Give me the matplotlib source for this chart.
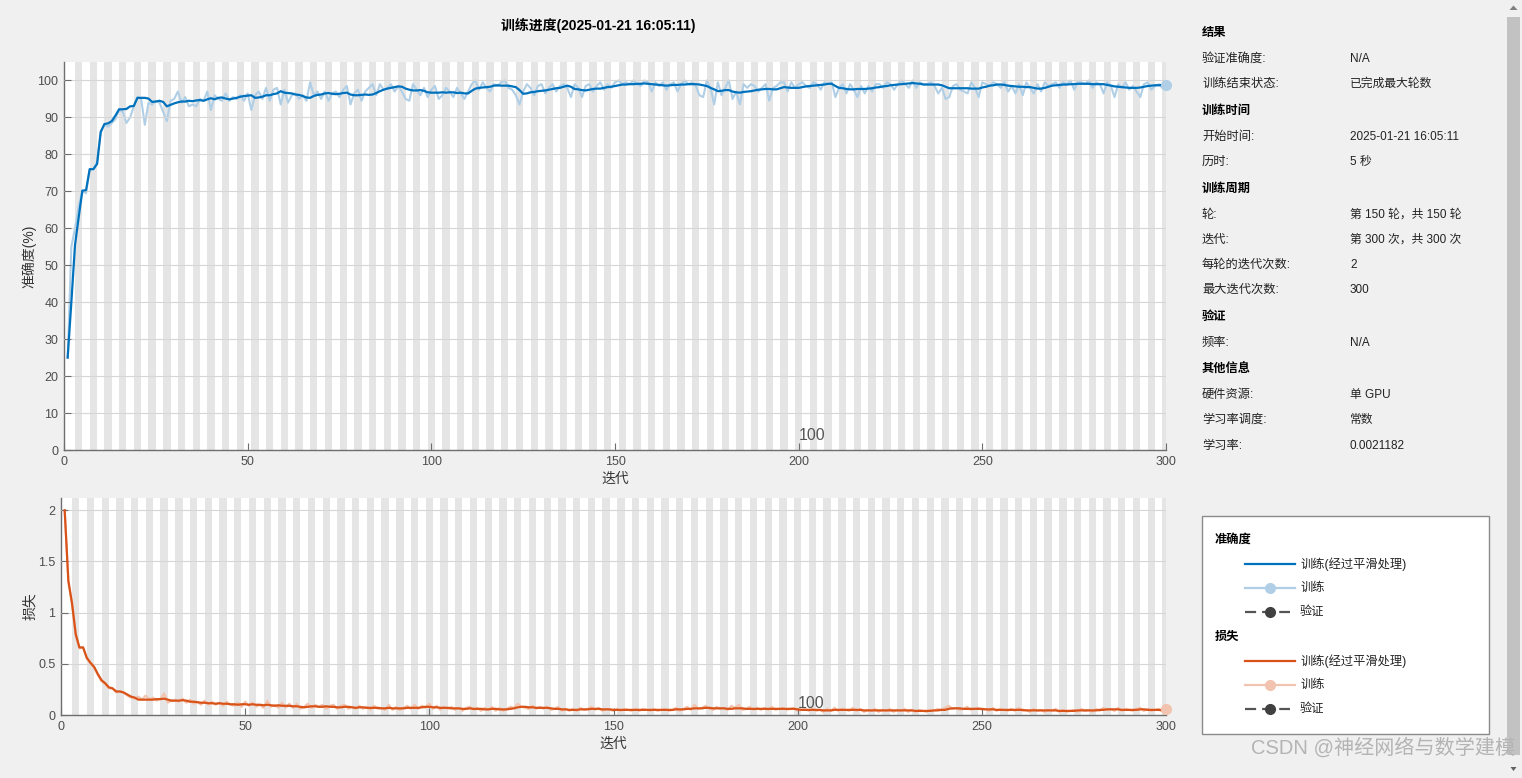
import numpy as np
import matplotlib
matplotlib.use('Agg')
import matplotlib.pyplot as plt
from matplotlib.patches import Rectangle, Polygon

plt.rcParams['font.family'] = ['Liberation Sans', 'Noto Sans CJK SC', 'DejaVu Sans']

# ---------------- data ----------------
iterations = np.arange(1, 301)

acc_smooth = [
    25.0, 40.0, 55.5, 63.0, 70.2, 70.3, 76.0, 76.0, 77.4, 86.1,
    88.2, 88.4, 89.0, 90.5, 92.2, 92.2, 92.3, 93.0, 93.1, 95.3,
    95.3, 95.3, 95.1, 94.2, 94.3, 94.5, 94.2, 93.0, 93.4, 93.8,
    94.1, 94.3, 94.3, 94.5, 94.4, 94.6, 94.7, 94.5, 94.9, 95.2,
    94.9, 95.3, 95.4, 95.1, 94.9, 95.1, 95.3, 95.6, 95.8, 95.9,
    96.0, 95.3, 95.4, 95.6, 96.0, 96.0, 96.3, 96.5, 97.1, 96.7,
    96.6, 96.5, 96.2, 96.1, 95.8, 95.4, 95.3, 95.8, 96.1, 96.2,
    96.5, 96.6, 96.4, 96.3, 96.4, 96.6, 96.7, 96.2, 96.0, 96.0,
    96.1, 96.2, 96.1, 96.2, 96.6, 97.1, 97.5, 97.8, 98.0, 98.2,
    98.4, 98.3, 97.8, 97.5, 97.3, 97.3, 97.4, 97.2, 96.8, 96.7,
    96.7, 96.7, 96.8, 96.7, 96.8, 96.8, 96.6, 96.7, 96.5, 96.5,
    97.2, 97.8, 98.0, 98.1, 98.2, 98.3, 98.6, 98.7, 98.6, 98.6,
    98.6, 98.4, 98.2, 97.4, 96.4, 96.5, 96.8, 96.9, 97.1, 97.2,
    97.3, 97.5, 97.7, 97.9, 98.0, 98.3, 98.6, 98.3, 97.7, 97.6,
    97.4, 97.3, 97.5, 97.7, 97.8, 97.8, 98.0, 98.2, 98.3, 98.5,
    98.7, 98.9, 98.9, 99.0, 99.0, 99.1, 99.1, 99.2, 99.1, 99.0,
    98.9, 98.8, 98.7, 98.6, 98.7, 98.8, 98.8, 98.9, 98.9, 99.0,
    99.0, 99.0, 98.9, 98.7, 98.5, 98.0, 97.6, 97.1, 97.2, 97.4,
    97.4, 97.0, 96.8, 96.7, 96.9, 97.0, 97.1, 97.3, 97.5, 97.6,
    97.7, 97.7, 97.6, 97.6, 97.9, 98.2, 98.1, 98.0, 98.0, 98.0,
    98.2, 98.4, 98.5, 98.6, 98.7, 98.8, 98.9, 99.1, 99.1, 98.5,
    98.0, 97.9, 97.7, 97.6, 97.6, 97.7, 97.7, 97.7, 97.8, 97.9,
    98.1, 98.2, 98.4, 98.5, 98.7, 98.8, 98.9, 99.0, 99.1, 99.2,
    99.3, 99.2, 99.1, 98.9, 98.9, 98.9, 98.9, 98.9, 98.7, 98.3,
    97.9, 97.9, 97.9, 97.9, 97.9, 97.9, 97.8, 97.8, 97.8, 98.1,
    98.3, 98.6, 98.7, 98.9, 98.9, 98.8, 98.6, 98.5, 98.4, 98.3,
    98.3, 98.2, 98.2, 98.0, 97.8, 97.8, 98.0, 98.3, 98.6, 98.7,
    98.8, 98.9, 98.9, 99.0, 99.0, 99.1, 99.1, 99.1, 99.1, 99.0,
    99.0, 99.0, 99.0, 98.8, 98.6, 98.4, 98.3, 98.2, 98.1, 98.0,
    98.0, 98.0, 98.1, 98.3, 98.5, 98.6, 98.7, 98.7, 98.8, 98.8,
]

acc_raw = [
    25.0, 55.0, 60.0, 66.0, 70.0, 69.5, 76.0, 76.0, 78.0, 86.0,
    88.0, 87.5, 88.5, 89.5, 92.0, 91.5, 88.5, 90.0, 93.0, 95.5,
    95.0, 88.0, 94.0, 93.5, 94.5, 94.0, 91.5, 89.0, 94.5, 95.0,
    97.0, 94.0, 95.5, 93.0, 93.5, 93.0, 95.0, 94.5, 97.0, 92.0,
    96.0, 95.0, 94.5, 96.5, 94.5, 95.5, 95.0, 96.0, 94.5, 96.5,
    92.0, 96.0, 97.0, 95.0, 98.0, 94.5, 97.5, 98.0, 93.5, 97.5,
    94.0, 96.0, 96.5, 95.0, 96.0, 94.5, 99.5, 96.0, 97.0, 95.0,
    97.0, 94.5, 96.5, 97.0, 95.5, 97.5, 98.5, 93.5, 96.5, 97.5,
    94.5, 97.0, 98.0, 99.0, 96.0, 99.0, 97.5, 98.0, 99.0, 97.0,
    98.5, 97.0, 95.0, 94.5, 99.0, 97.5, 96.0, 98.0, 95.5, 97.5,
    98.5, 95.0, 96.0, 98.0, 97.0, 95.5, 98.0, 96.5, 95.0, 97.0,
    99.0, 100.0, 97.5, 99.5, 98.0, 97.0, 99.0, 98.5, 99.5, 100.0,
    98.0, 97.5, 96.0, 93.5, 97.0, 99.0, 98.0, 96.0, 98.5, 99.0,
    96.5, 98.0, 99.0, 97.0, 98.5, 99.0, 98.0, 95.5, 99.0, 98.0,
    95.5, 98.5, 99.0, 97.0, 98.5, 99.5, 97.5, 99.0, 98.0, 99.5,
    100.0, 99.0, 99.5, 99.0, 100.0, 99.0, 98.5, 100.0, 99.5, 97.0,
    99.5, 98.5, 99.5, 97.5, 99.0, 99.5, 97.0, 99.0, 100.0, 99.0,
    99.5, 98.5, 96.0, 95.5, 100.0, 98.0, 93.5, 99.5, 96.0, 98.0,
    100.0, 95.0, 97.0, 93.5, 99.0, 98.0, 99.0, 98.5, 97.0, 98.0,
    99.0, 94.5, 98.0, 98.5, 99.5, 99.5, 97.0, 99.5, 98.0, 99.0,
    99.5, 98.5, 98.0, 99.5, 99.0, 97.5, 99.5, 99.0, 99.5, 95.5,
    98.0, 99.0, 96.5, 99.0, 97.5, 95.5, 98.5, 96.5, 98.5, 97.0,
    99.0, 99.0, 98.0, 99.5, 99.0, 97.5, 99.0, 100.0, 99.0, 98.0,
    100.0, 98.0, 99.5, 99.0, 99.0, 99.5, 98.5, 96.5, 98.0, 95.0,
    95.5, 98.5, 99.0, 97.5, 97.0, 96.5, 99.5, 98.0, 95.5, 99.5,
    99.0, 98.5, 99.5, 99.0, 98.0, 99.5, 97.0, 98.5, 96.5, 99.0,
    96.0, 99.5, 98.0, 96.5, 99.0, 97.0, 99.5, 98.5, 99.0, 99.5,
    98.0, 99.5, 99.0, 100.0, 97.5, 99.5, 99.5, 99.0, 100.0, 98.0,
    99.5, 99.0, 96.5, 99.5, 98.5, 95.5, 99.0, 98.0, 99.5, 97.5,
    98.5, 97.0, 95.5, 99.0, 99.5, 97.5, 98.5, 99.0, 98.0, 98.8,
]

loss_smooth = [
    2.00, 1.31, 1.09, 0.79, 0.66, 0.66, 0.56, 0.51, 0.47, 0.40,
    0.34, 0.31, 0.27, 0.26, 0.23, 0.23, 0.22, 0.20, 0.18, 0.17,
    0.15, 0.15, 0.15, 0.15, 0.15, 0.155, 0.155, 0.16, 0.15, 0.14,
    0.14, 0.14, 0.145, 0.14, 0.13, 0.13, 0.125, 0.12, 0.12, 0.115,
    0.115, 0.11, 0.115, 0.11, 0.11, 0.105, 0.105, 0.10, 0.105, 0.105,
    0.10, 0.105, 0.10, 0.10, 0.095, 0.10, 0.095, 0.09, 0.095, 0.09,
    0.09, 0.09, 0.085, 0.085, 0.08, 0.075, 0.08, 0.085, 0.085, 0.08,
    0.08, 0.085, 0.08, 0.08, 0.075, 0.075, 0.08, 0.08, 0.075, 0.07,
    0.075, 0.075, 0.07, 0.07, 0.07, 0.07, 0.065, 0.065, 0.07, 0.065,
    0.065, 0.065, 0.065, 0.07, 0.07, 0.07, 0.07, 0.075, 0.08, 0.08,
    0.075, 0.075, 0.07, 0.07, 0.07, 0.065, 0.065, 0.065, 0.06, 0.06,
    0.065, 0.06, 0.06, 0.06, 0.055, 0.055, 0.06, 0.06, 0.055, 0.055,
    0.055, 0.06, 0.065, 0.075, 0.08, 0.08, 0.075, 0.075, 0.07, 0.07,
    0.07, 0.07, 0.065, 0.06, 0.06, 0.055, 0.055, 0.05, 0.05, 0.05,
    0.055, 0.055, 0.055, 0.06, 0.06, 0.06, 0.055, 0.055, 0.055, 0.05,
    0.05, 0.05, 0.05, 0.05, 0.05, 0.05, 0.05, 0.05, 0.05, 0.05,
    0.05, 0.05, 0.05, 0.05, 0.05, 0.05, 0.055, 0.055, 0.055, 0.06,
    0.06, 0.065, 0.065, 0.065, 0.07, 0.07, 0.065, 0.065, 0.065, 0.065,
    0.06, 0.06, 0.065, 0.065, 0.065, 0.06, 0.06, 0.06, 0.06, 0.06,
    0.06, 0.06, 0.06, 0.06, 0.06, 0.06, 0.06, 0.06, 0.06, 0.055,
    0.05, 0.05, 0.05, 0.05, 0.05, 0.05, 0.045, 0.045, 0.045, 0.05,
    0.05, 0.05, 0.05, 0.05, 0.05, 0.05, 0.05, 0.045, 0.045, 0.045,
    0.045, 0.045, 0.045, 0.045, 0.045, 0.045, 0.045, 0.045, 0.045, 0.045,
    0.045, 0.04, 0.04, 0.04, 0.04, 0.04, 0.045, 0.045, 0.05, 0.05,
    0.06, 0.065, 0.065, 0.065, 0.06, 0.06, 0.06, 0.06, 0.06, 0.06,
    0.055, 0.055, 0.055, 0.05, 0.05, 0.05, 0.05, 0.05, 0.05, 0.05,
    0.05, 0.045, 0.045, 0.045, 0.045, 0.045, 0.045, 0.045, 0.045, 0.045,
    0.04, 0.04, 0.04, 0.04, 0.04, 0.045, 0.045, 0.045, 0.045, 0.045,
    0.045, 0.05, 0.05, 0.055, 0.055, 0.055, 0.055, 0.05, 0.05, 0.05,
    0.05, 0.05, 0.055, 0.055, 0.05, 0.05, 0.05, 0.05, 0.045, 0.045,
]

loss_raw = [
    2.00, 1.30, 1.08, 0.78, 0.65, 0.66, 0.55, 0.50, 0.46, 0.39,
    0.33, 0.30, 0.26, 0.26, 0.22, 0.23, 0.22, 0.19, 0.17, 0.16,
    0.18, 0.15, 0.19, 0.15, 0.17, 0.14, 0.16, 0.21, 0.12, 0.14,
    0.15, 0.13, 0.16, 0.12, 0.15, 0.11, 0.13, 0.10, 0.14, 0.10,
    0.13, 0.10, 0.12, 0.09, 0.13, 0.10, 0.09, 0.12, 0.08, 0.13,
    0.09, 0.12, 0.08, 0.10, 0.07, 0.14, 0.08, 0.10, 0.07, 0.12,
    0.07, 0.11, 0.07, 0.11, 0.06, 0.08, 0.11, 0.07, 0.10, 0.08,
    0.10, 0.06, 0.09, 0.10, 0.06, 0.09, 0.10, 0.06, 0.08, 0.06,
    0.09, 0.06, 0.08, 0.05, 0.09, 0.06, 0.07, 0.05, 0.10, 0.05,
    0.08, 0.05, 0.07, 0.09, 0.06, 0.10, 0.06, 0.09, 0.07, 0.11,
    0.06, 0.09, 0.05, 0.08, 0.06, 0.08, 0.05, 0.07, 0.04, 0.07,
    0.08, 0.05, 0.07, 0.04, 0.07, 0.05, 0.08, 0.04, 0.07, 0.04,
    0.06, 0.08, 0.07, 0.11, 0.08, 0.07, 0.06, 0.09, 0.06, 0.08,
    0.06, 0.08, 0.05, 0.06, 0.08, 0.04, 0.06, 0.04, 0.06, 0.04,
    0.07, 0.05, 0.06, 0.08, 0.05, 0.07, 0.04, 0.06, 0.05, 0.04,
    0.06, 0.04, 0.06, 0.05, 0.04, 0.06, 0.04, 0.06, 0.05, 0.04,
    0.06, 0.04, 0.05, 0.06, 0.04, 0.05, 0.07, 0.04, 0.06, 0.08,
    0.05, 0.10, 0.06, 0.07, 0.09, 0.06, 0.05, 0.08, 0.06, 0.07,
    0.05, 0.09, 0.07, 0.10, 0.05, 0.06, 0.08, 0.05, 0.07, 0.05,
    0.07, 0.05, 0.08, 0.05, 0.06, 0.07, 0.05, 0.06, 0.07, 0.04,
    0.05, 0.06, 0.04, 0.06, 0.04, 0.05, 0.03, 0.06, 0.04, 0.07,
    0.04, 0.06, 0.05, 0.04, 0.07, 0.04, 0.06, 0.03, 0.05, 0.04,
    0.06, 0.03, 0.05, 0.04, 0.06, 0.03, 0.05, 0.04, 0.06, 0.03,
    0.05, 0.03, 0.05, 0.04, 0.03, 0.05, 0.04, 0.06, 0.05, 0.07,
    0.09, 0.06, 0.07, 0.05, 0.06, 0.08, 0.05, 0.06, 0.07, 0.05,
    0.06, 0.04, 0.07, 0.04, 0.06, 0.05, 0.04, 0.06, 0.04, 0.07,
    0.04, 0.05, 0.03, 0.06, 0.04, 0.05, 0.03, 0.05, 0.04, 0.06,
    0.03, 0.05, 0.03, 0.04, 0.05, 0.03, 0.06, 0.04, 0.05, 0.03,
    0.06, 0.04, 0.07, 0.05, 0.06, 0.04, 0.07, 0.04, 0.06, 0.05,
    0.04, 0.06, 0.07, 0.04, 0.06, 0.04, 0.05, 0.06, 0.04, 0.06,
]

x_ticks = [0, 50, 100, 150, 200, 250, 300]
acc_ticks = [0, 10, 20, 30, 40, 50, 60, 70, 80, 90, 100]
loss_ticks = [0, 0.5, 1, 1.5, 2]
num_epochs = 150
iters_per_epoch = 2
epoch_marker_iter = 200
epoch_marker_label = "100"

title_text = "训练进度(2025-01-21 16:05:11)"

info_rows = [
    ("h", "结果", ""),
    ("r", "验证准确度:", "N/A"),
    ("r", "训练结束状态:", "已完成最大轮数"),
    ("h", "训练时间", ""),
    ("r", "开始时间:", "2025-01-21 16:05:11"),
    ("r", "历时:", "5 秒"),
    ("h", "训练周期", ""),
    ("r", "轮:", "第 150 轮，共 150 轮"),
    ("r", "迭代:", "第 300 次，共 300 次"),
    ("r", "每轮的迭代次数:", "2"),
    ("r", "最大迭代次数:", "300"),
    ("h", "验证", ""),
    ("r", "频率:", "N/A"),
    ("h", "其他信息", ""),
    ("r", "硬件资源:", "单 GPU"),
    ("r", "学习率调度:", "常数"),
    ("r", "学习率:", "0.0021182"),
]

legend_groups = ["准确度", "损失"]
legend_items = ["训练(经过平滑处理)", "训练", "验证"]

# ---------------- styling ----------------
W, H = 1522, 778
BG = '#f0f0f0'
STRIPE = '#e5e5e5'
ACC_C = '#0072bd'
ACC_RAW_C = '#b0cfe6'
LOSS_C = '#d95319'
LOSS_RAW_C = '#f2c3ae'
VAL_C = '#404040'

fig = plt.figure(figsize=(W / 100, H / 100), dpi=100, facecolor=BG)

ax1 = fig.add_axes([64 / W, 1 - 450 / H, 1102 / W, 388 / H])
ax2 = fig.add_axes([61 / W, 1 - 715 / H, 1105 / W, 217 / H])


def style_axes(ax, yticks, ylim, ylabel):
    ax.set_facecolor('white')
    ax.set_xlim(0, 300)
    ax.set_ylim(*ylim)
    for e in range(2, num_epochs + 1, 2):
        ax.axvspan((e - 1) * iters_per_epoch + 1, e * iters_per_epoch + 1,
                   color=STRIPE, lw=0, zorder=0)
    ax.set_xticks(x_ticks)
    ax.set_yticks(yticks)
    ax.set_yticklabels([('%g' % t) for t in yticks])
    ax.grid(axis='y', color='#d6d6d6', lw=0.8, zorder=1)
    ax.set_axisbelow(False)
    for s in ['top', 'right']:
        ax.spines[s].set_visible(False)
    for s in ['left', 'bottom']:
        ax.spines[s].set_color('#6e6e6e')
        ax.spines[s].set_linewidth(1.0)
    ax.tick_params(direction='in', length=5, width=0.8, colors='#6e6e6e',
                   labelcolor='#4d4d4d', labelsize=9, pad=4)
    ax.set_xlabel("迭代", fontsize=10, color='#333333', labelpad=3)
    ax.set_ylabel(ylabel, fontsize=10, color='#333333', labelpad=1)


style_axes(ax1, acc_ticks, (0, 105), "准确度(%)")
style_axes(ax2, loss_ticks, (0, 2.12), "损失")

ax1.plot(iterations, acc_raw, color=ACC_RAW_C, lw=1.5, zorder=2)
ax1.plot(iterations, acc_smooth, color=ACC_C, lw=1.6, zorder=3)
ax1.plot([iterations[-1]], [acc_raw[-1]], 'o', color=ACC_RAW_C, ms=7,
         clip_on=False, zorder=4)

ax2.plot(iterations, loss_raw, color=LOSS_RAW_C, lw=1.5, zorder=2)
ax2.plot(iterations, loss_smooth, color=LOSS_C, lw=1.6, zorder=3)
ax2.plot([iterations[-1]], [loss_raw[-1]], 'o', color=LOSS_RAW_C, ms=7,
         clip_on=False, zorder=4)

for ax, yb in [(ax1, 2.0), (ax2, 0.04)]:
    ax.text(epoch_marker_iter, yb, epoch_marker_label, fontsize=11.5,
            color='#555555', ha='left', va='bottom', zorder=5)

fig.text(598 / W, 1 - 25 / H, title_text, ha='center', va='center',
         fontsize=10, fontweight='bold', color='black')

# ---------------- right panel (pixel coords overlay) ----------------
ov = fig.add_axes([0, 0, 1, 1])
ov.set_xlim(0, W)
ov.set_ylim(H, 0)
ov.axis('off')
ov.patch.set_alpha(0)

row_y = [33, 59, 84, 111, 137, 162, 189, 215, 240, 265, 290, 317, 343, 370, 395, 420, 446]
for (kind, lab, val), y in zip(info_rows, row_y):
    if kind == 'h':
        ov.text(1202, y, lab, fontsize=8.8, fontweight='bold', color='black',
                va='center', ha='left')
    else:
        ov.text(1202, y, lab, fontsize=8.8, color='#222222', va='center', ha='left')
        ov.text(1350, y, val, fontsize=8.5, color='#222222', va='center', ha='left')

# legend box
ov.add_patch(Rectangle((1202, 516), 287, 218, facecolor='white',
                       edgecolor='#8a8a8a', lw=1.0))
group_y = [540, 637]
styles = [
    [(ACC_C, '-', None), (ACC_RAW_C, '-', 'o'), (VAL_C, '--', 'o')],
    [(LOSS_C, '-', None), (LOSS_RAW_C, '-', 'o'), (VAL_C, '--', 'o')],
]
for gi, (gname, gy) in enumerate(zip(legend_groups, group_y)):
    ov.text(1215, gy, gname, fontsize=8.8, fontweight='bold', color='black',
            va='center', ha='left')
    for ii, lab in enumerate(legend_items):
        y = gy + 24 * (ii + 1)
        col, ls, mk = styles[gi][ii]
        if ls == '--':
            ov.plot([1245, 1290], [y, y], color='#555555', lw=1.6,
                    dashes=(5, 2.7))
            ov.plot([1270], [y], 'o', color=VAL_C, ms=7)
        else:
            ov.plot([1245, 1295], [y, y], color=col, lw=1.6)
            if mk:
                ov.plot([1270], [y], 'o', color=col, ms=7)
        ov.text(1300, y, lab, fontsize=8.8, color='#222222', va='center', ha='left')

# scrollbar
ov.add_patch(Rectangle((1505, 0), 17, H, facecolor='#f0f0f0', edgecolor='none'))
ov.add_patch(Rectangle((1507, 17), 13, 738, facecolor='#c2c2c2', edgecolor='none'))
ov.add_patch(Polygon([[1509.5, 10], [1517.5, 10], [1513.5, 5.5]], closed=True,
                     facecolor='#808080', edgecolor='none'))
ov.add_patch(Polygon([[1510.5, 767], [1516.5, 767], [1513.5, 771]], closed=True,
                     facecolor='#606060', edgecolor='none'))

# watermark
ov.text(1515, 748, "CSDN @神经网络与数学建模", fontsize=14.5, color='#b4b4b4',
        ha='right', va='center',
        family=['Liberation Sans', 'Noto Sans CJK SC'])

fig.savefig('out.png', dpi=100, facecolor=BG)
